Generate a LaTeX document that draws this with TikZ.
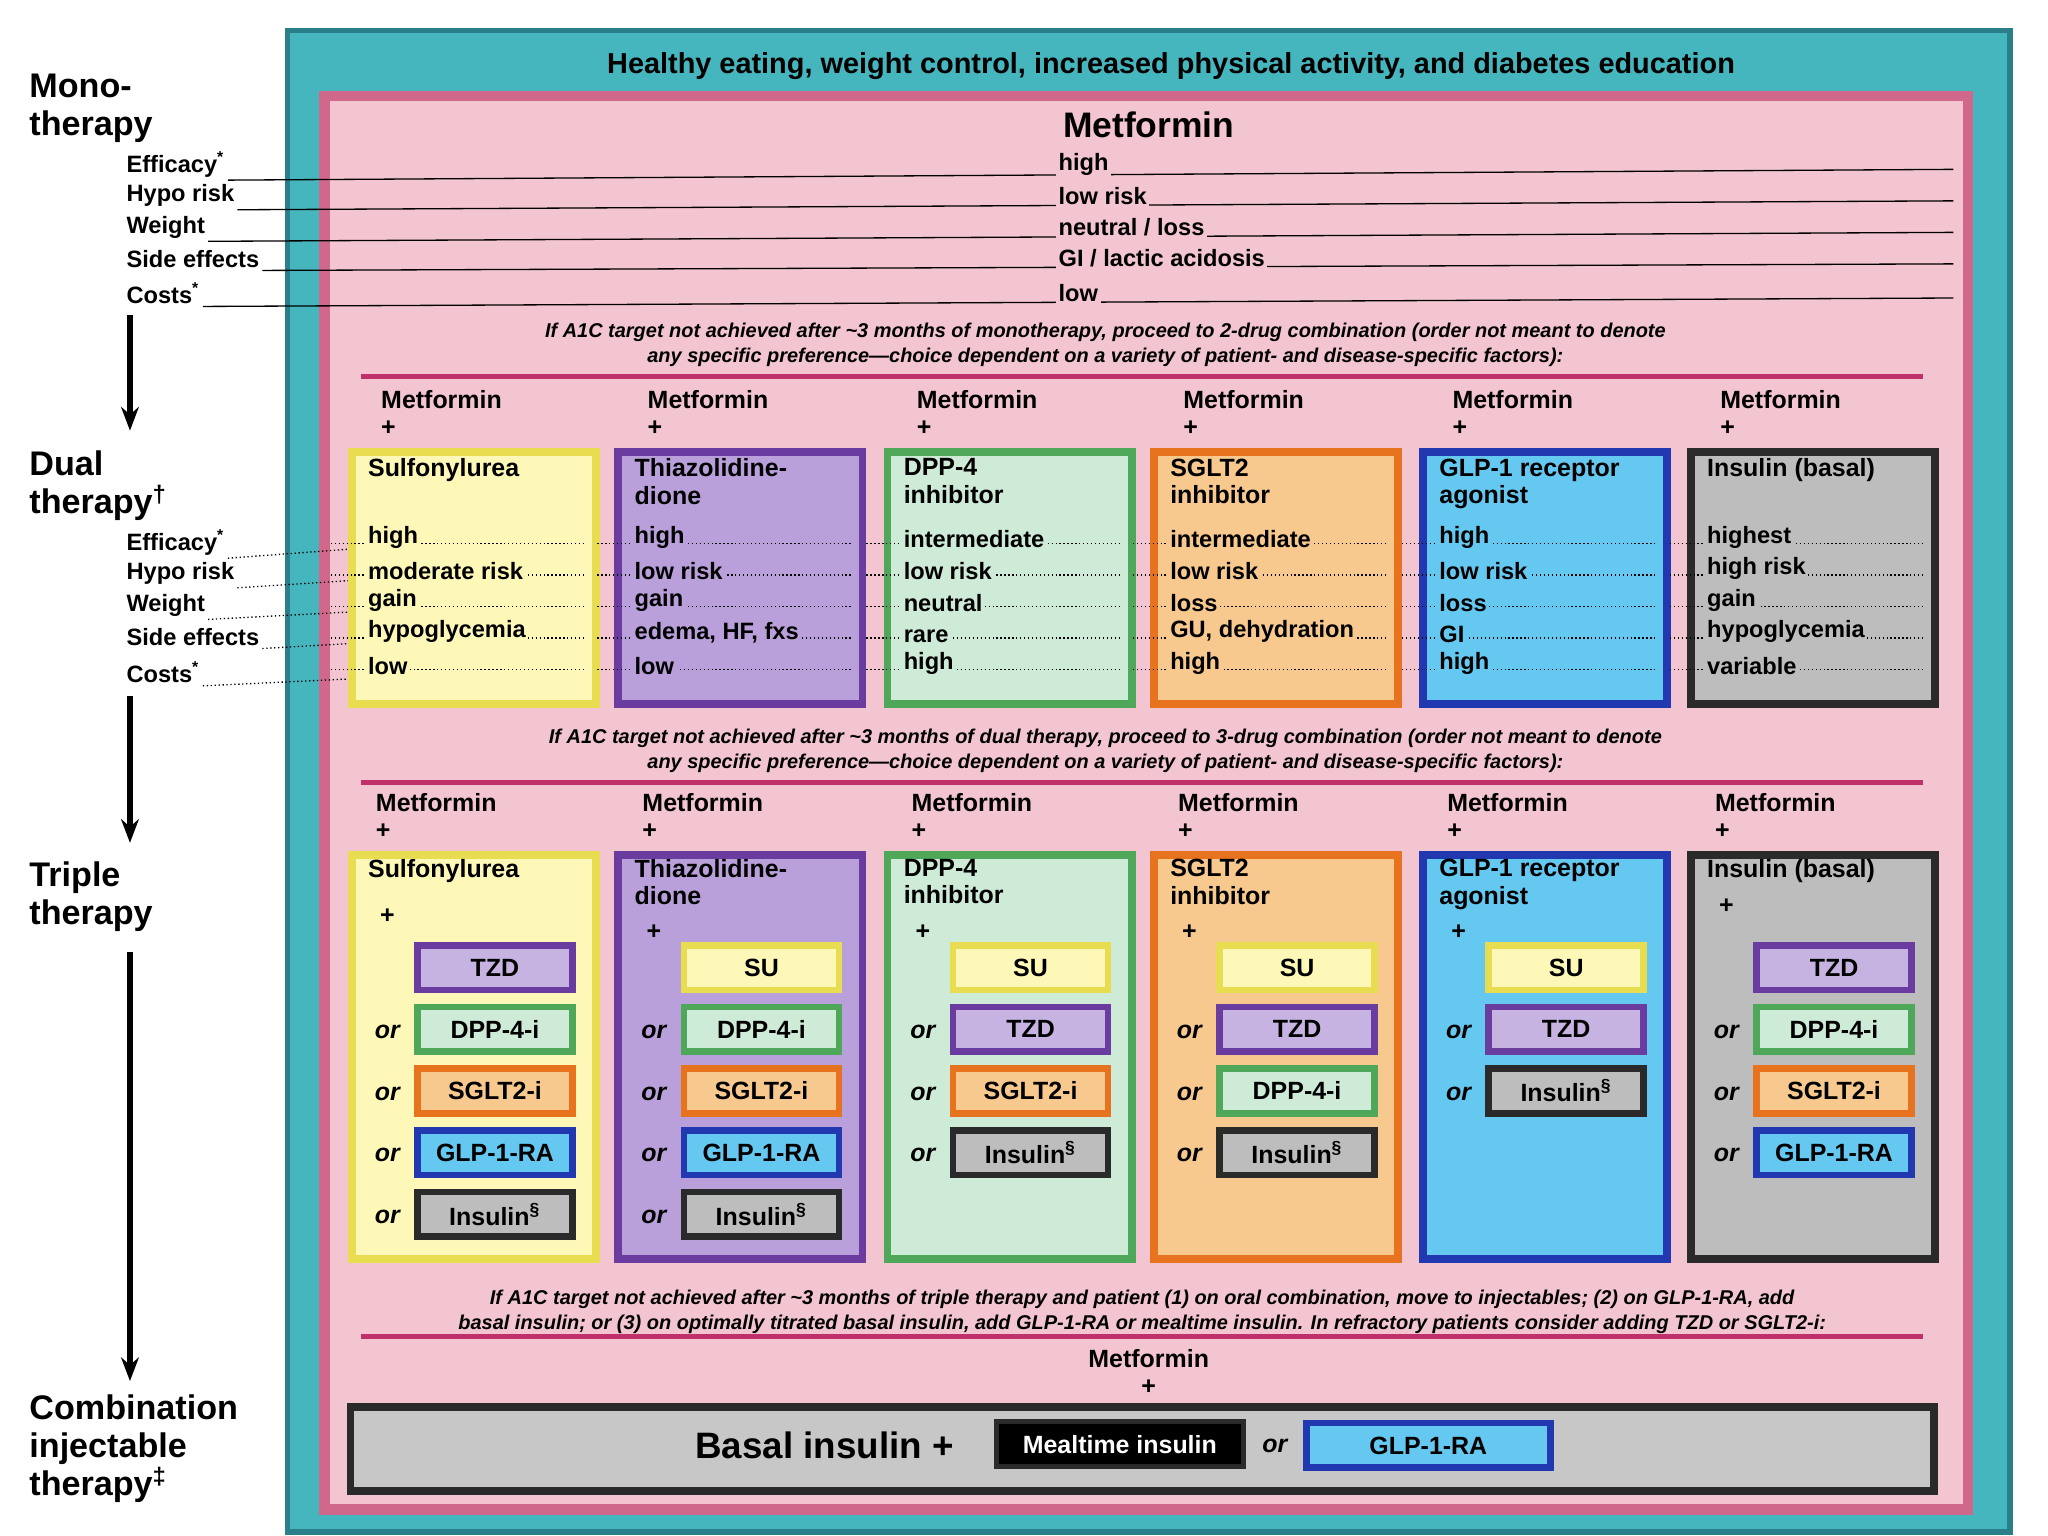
\documentclass[tikz,border=0pt]{standalone}
\usepackage{fontspec}
\usetikzlibrary{arrows.meta}
\setmainfont{Liberation Sans}
\begin{document}
\begin{tikzpicture}[x=0.5pt,y=-0.5pt,font=\bfseries\fontsize{9}{10}\selectfont]
\definecolor{teal1}{HTML}{45B5BE}\definecolor{teal2}{HTML}{2A7F88}
\definecolor{pink1}{HTML}{F3C5D1}\definecolor{pink2}{HTML}{D0688C}\definecolor{mag}{HTML}{C0306A}
\definecolor{yF}{HTML}{FDF7B8}\definecolor{yD}{HTML}{E8DC50}
\definecolor{pF}{HTML}{B9A0DA}\definecolor{pD}{HTML}{6A3CA0}
\definecolor{gF}{HTML}{CDEBD6}\definecolor{gD}{HTML}{4FA85A}
\definecolor{oF}{HTML}{F8C98E}\definecolor{oD}{HTML}{E8731E}
\definecolor{bF}{HTML}{64C8F0}\definecolor{bD}{HTML}{2238B0}
\definecolor{kF}{HTML}{BDBDBD}\definecolor{kD}{HTML}{2A2A2A}
\tikzset{
 metf/.style={inner sep=0pt,font=\bfseries\fontsize{9.5}{10}\selectfont},
 lab/.style={inner sep=1pt,anchor=west,font=\bfseries\fontsize{9}{10}\selectfont},
 big/.style={inner sep=0pt,anchor=north west,align=left,font=\bfseries\fontsize{13}{14.5}\selectfont},
 val/.style={inner sep=1pt,font=\bfseries\fontsize{9}{10}\selectfont},
 boxt/.style={inner sep=0pt,align=left,font=\bfseries\fontsize{9.5}{10.5}\selectfont},
 ital/.style={inner sep=0pt,align=center,font=\bfseries\itshape\fontsize{7.6}{9.5}\selectfont},
 sb/.style={line width=2.5pt,minimum width=59pt,minimum height=17pt,inner sep=0pt,font=\bfseries\fontsize{9.5}{10}\selectfont},
 sbTZD/.style={sb,fill=pF!80!white,draw=pD},
 sbSU/.style={sb,fill=yF,draw=yD},
 sbDPP/.style={sb,fill=gF,draw=gD},
 sbSG/.style={sb,fill=oF,draw=oD},
 sbGLP/.style={sb,fill=bF,draw=bD},
 sbINS/.style={sb,fill=kF,draw=kD},
 orr/.style={inner sep=0pt,font=\bfseries\itshape\fontsize{9.5}{10}\selectfont},
 arr/.style={-{Stealth[length=9pt]},line width=2pt},
 dl/.style={densely dotted,line width=0.5pt},
 sl/.style={line width=0.5pt}
}
\useasboundingbox (0,0) rectangle (1560,1170);
\fill[white] (0,0) rectangle (1560,1170);
% frames
\draw[fill=teal1,draw=teal2,line width=2pt] (219,23) rectangle (1531,1167);
\node[inner sep=0pt,font=\bfseries\fontsize{11}{12}\selectfont] (title) at (892,50) {Healthy eating, weight control, increased physical activity, and diabetes education};
\draw[fill=pink1,draw=pink2,line width=4pt] (247,73) rectangle (1499,1150);
\node[inner sep=0pt,font=\bfseries\fontsize{13.5}{14}\selectfont] (met) at (875,95) {Metformin};
% left labels
\node[big] (mono) at (22,56) {Mono-\\therapy};
\node[big] (dual) at (22,343) {Dual\\therapy\textsuperscript{\dag}};
\node[big] (triple) at (22,656) {Triple\\therapy};
\node[big] (comb) at (22,1062) {Combination\\injectable\\therapy\textsuperscript{\ddag}};
\coordinate (a1) at (99,240);\coordinate (a1e) at (99,328);
\coordinate (a2) at (99,530);\coordinate (a2e) at (99,642);
\coordinate (a3) at (99,725);\coordinate (a3e) at (99,1052);
\draw[arr] (a1)--(a1e);\draw[arr] (a2)--(a2e);\draw[arr] (a3)--(a3e);
% mono rows
\foreach \l/\v/\y [count=\k] in {Efficacy\textsuperscript{*}/high/125,Hypo risk/low risk/149,Weight/neutral~\slash~loss/173,Side effects/GI~\slash~lactic acidosis/197,Costs\textsuperscript{*}/low/223}{
 \node[lab] (ml\k) at (94,\y) {\l};
 \coordinate (me\k) at (1488,\y+4);
 \draw[sl] (ml\k.south east)--(me\k);
 \node[val,fill=pink1,anchor=west] (mv\k) at (804,\y) {\v};
}
% italic notes
\node[ital] (n1) at (842,263) {If A1C target not achieved after \textasciitilde3 months of monotherapy, proceed to 2-drug combination (order not meant to denote\\any specific preference---choice dependent on a variety of patient- and disease-specific factors):};
\coordinate (l1a) at (275,287);\coordinate (l1b) at (1465,287);
\draw[mag,line width=2pt] (l1a)--(l1b);
\node[ital] (n2) at (842,572) {If A1C target not achieved after \textasciitilde3 months of dual therapy, proceed to 3-drug combination (order not meant to denote\\any specific preference---choice dependent on a variety of patient- and disease-specific factors):};
\coordinate (l2a) at (275,596);\coordinate (l2b) at (1465,596);
\draw[mag,line width=2pt] (l2a)--(l2b);
\node[ital] (n3) at (870,999) {If A1C target not achieved after \textasciitilde3 months of triple therapy and patient (1) on oral combination, move to injectables; (2) on GLP-1-RA, add\\basal insulin; or (3) on optimally titrated basal insulin, add GLP-1-RA or mealtime insulin. In refractory patients consider adding TZD or SGLT2-i:};
\coordinate (l3a) at (275,1018);\coordinate (l3b) at (1465,1018);
\draw[mag,line width=2pt] (l3a)--(l3b);
% dual labels
\foreach \l/\y [count=\k] in {Efficacy\textsuperscript{*}/413,Hypo risk/437,Weight/461,Side effects/485,Costs\textsuperscript{*}/512}{
 \node[lab] (dl\k) at (94,\y) {\l};
 \coordinate (de\k) at (270,\y+5);
 \draw[dl] (dl\k.south east)--(de\k);
}
\newcommand\dualcol[6]{%
 \node[metf,anchor=west] (dm#1) at (#2+26,304) {Metformin};
 \node[metf,anchor=west] (dp#1) at (#2+26,326) {+};
 \node[draw=#4,fill=#3,line width=3pt,minimum width=93pt,minimum height=96pt,inner sep=0pt,anchor=north west] (db#1) at (#2+1,341) {};
 \node[boxt,anchor=north west] (dt#1) at (#2+16,349) {#5};
 \foreach \v [count=\k] in {#6}{
  \coordinate (dsa#1-\k) at (#2-12,390+24*\k);
  \coordinate (dsb#1-\k) at (#2+182,390+24*\k);
  \draw[dl] (dsa#1-\k)--(dsb#1-\k);
  \node[val,fill=#3,anchor=south west] (dv#1-\k) at (#2+14,396+24*\k) {\v};
 }}
\dualcol{1}{264}{yF}{yD}{Sulfonylurea}{high,moderate risk,gain,hypoglycemia,low}
\dualcol{2}{467}{pF}{pD}{Thiazolidine-\\dione}{high,low risk,gain,{edema, HF, fxs},low}
\dualcol{3}{672}{gF}{gD}{DPP-4\\inhibitor}{intermediate,low risk,neutral,rare,high}
\dualcol{4}{875}{oF}{oD}{SGLT2\\inhibitor}{intermediate,low risk,loss,{GU, dehydration},high}
\dualcol{5}{1080}{bF}{bD}{GLP-1 receptor\\agonist}{high,low risk,loss,GI,high}
\dualcol{6}{1284}{kF}{kD}{Insulin (basal)}{highest,high risk,gain,hypoglycemia,variable}
% triple
\newcommand\triplecol[7]{%
 \node[metf,anchor=west] (tm#1) at (#2+22,611) {Metformin};
 \node[metf,anchor=west] (tp#1) at (#2+22,633) {+};
 \node[draw=#4,fill=#3,line width=3pt,minimum width=93pt,minimum height=154pt,inner sep=0pt,anchor=north west] (tb#1) at (#2+1,648) {};
 \node[boxt,anchor=north west] (tt#1) at (#2+16,654) {#5};
 \node[metf] (tq#1) at (#2+31,#6) {+};
 \foreach \s/\t [count=\k] in {#7}{
  \node[sb\s] (ts#1-\k) at (#2+113,690+47*\k) {\t};
  \ifnum\k>1 \node[orr] (to#1-\k) at (#2+31,692+47*\k) {or};\fi
 }}
\def\myins{Insulin\textsuperscript{\S}}
\triplecol{1}{264}{yF}{yD}{Sulfonylurea}{698}{TZD/TZD,DPP/DPP-4-i,SG/SGLT2-i,GLP/GLP-1-RA,INS/\myins}
\triplecol{2}{467}{pF}{pD}{Thiazolidine-\\dione}{710}{SU/SU,DPP/DPP-4-i,SG/SGLT2-i,GLP/GLP-1-RA,INS/\myins}
\triplecol{3}{672}{gF}{gD}{DPP-4\\inhibitor}{710}{SU/SU,TZD/TZD,SG/SGLT2-i,INS/\myins}
\triplecol{4}{875}{oF}{oD}{SGLT2\\inhibitor}{710}{SU/SU,TZD/TZD,DPP/DPP-4-i,INS/\myins}
\triplecol{5}{1080}{bF}{bD}{GLP-1 receptor\\agonist}{710}{SU/SU,TZD/TZD,INS/\myins}
\triplecol{6}{1284}{kF}{kD}{Insulin (basal)}{690}{TZD/TZD,DPP/DPP-4-i,SG/SGLT2-i,GLP/GLP-1-RA}
% combination
\node[metf] (cm) at (875,1035) {Metformin};
\node[metf] (cp) at (875,1057) {+};
\node[draw=kD,fill=kF!85!white,line width=3pt,minimum width=603pt,minimum height=32pt,inner sep=0pt] (cb) at (870,1104) {};
\node[inner sep=0pt,font=\bfseries\fontsize{14}{15}\selectfont] (bi) at (628,1101) {Basal insulin +};
\node[fill=black,draw=kD,line width=2pt,text=white,minimum width=94pt,minimum height=17pt,inner sep=0pt,font=\bfseries\fontsize{9.5}{10}\selectfont] (mi) at (853,1100) {Mealtime insulin};
\node[orr] (cor) at (971,1101) {or};
\node[sbGLP,minimum width=93pt] (cg) at (1088,1101) {GLP-1-RA};
\end{tikzpicture}
\end{document}
